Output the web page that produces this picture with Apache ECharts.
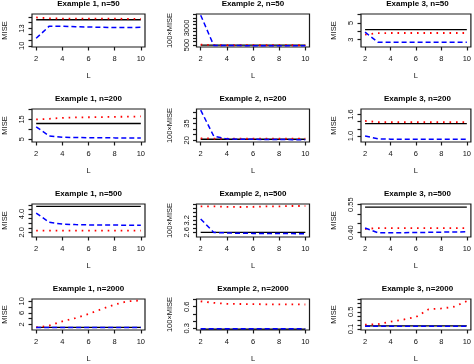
<!DOCTYPE html>
<html><head><meta charset="utf-8">
<script src="https://cdn.jsdelivr.net/npm/echarts@6/dist/echarts.min.js"></script>
<style>html,body{margin:0;padding:0;background:#fff}#c{width:474px;height:364px}</style>
</head><body><div id="c"></div><script>
const L = [2,3,4,5,6,7,8,9,10];
const xTicks = [2,4,6,8,10];
const titles = ['Example 1, n=50','Example 2, n=50','Example 3, n=50',
                'Example 1, n=200','Example 2, n=200','Example 3, n=200',
                'Example 1, n=500','Example 2, n=500','Example 3, n=500',
                'Example 1, n=2000','Example 2, n=2000','Example 3, n=2000'];
const yNames = ['MISE','100\u00d7MISE','MISE','MISE','100\u00d7MISE','MISE',
                'MISE','100\u00d7MISE','MISE','MISE','100\u00d7MISE','MISE'];

// Example 1, n=50
const e1n50_solid  = [14.5,14.5,14.5,14.5,14.5,14.5,14.5,14.5,14.5];
const e1n50_dotted = [14.9,14.75,14.7,14.7,14.7,14.7,14.7,14.65,14.65];
const e1n50_dashed = [11.3,13.4,13.4,13.3,13.25,13.2,13.15,13.15,13.2];
// Example 2, n=50
const e2n50_solid  = [480,480,480,480,480,480,480,480,480];
const e2n50_dotted = [560,470,460,460,460,460,460,460,460];
const e2n50_dashed = [4880,430,410,410,405,405,400,400,400];
// Example 3, n=50
const e3n50_solid  = [4.2,4.2,4.2,4.2,4.2,4.2,4.2,4.2,4.2];
const e3n50_dotted = [3.6,3.78,3.8,3.8,3.8,3.8,3.8,3.8,3.8];
const e3n50_dashed = [3.9,2.7,2.68,2.68,2.68,2.68,2.68,2.68,2.68];
// Example 1, n=200
const e1n200_solid  = [12.9,12.9,12.9,12.9,12.9,12.9,12.9,12.9,12.9];
const e1n200_dotted = [15.0,15.3,15.8,16.0,16.1,16.2,16.3,16.4,16.5];
const e1n200_dashed = [11.2,6.6,5.9,5.8,5.7,5.7,5.6,5.6,5.6];
// Example 2, n=200
const e2n200_solid  = [21.0,21.0,21.0,21.0,21.0,21.0,21.0,21.0,21.0];
const e2n200_dotted = [21.8,21.6,21.6,21.6,21.6,21.6,21.6,21.6,21.6];
const e2n200_dashed = [47,23.7,21.3,21.0,20.9,20.8,20.7,20.6,20.5];
// Example 3, n=200
const e3n200_solid  = [1.345,1.345,1.345,1.345,1.345,1.345,1.345,1.345,1.345];
const e3n200_dotted = [1.42,1.39,1.39,1.39,1.39,1.39,1.39,1.39,1.39];
const e3n200_dashed = [1.0,0.92,0.91,0.91,0.91,0.91,0.91,0.91,0.91];
// Example 1, n=500
const e1n500_solid  = [4.83,4.83,4.83,4.83,4.83,4.83,4.83,4.83,4.83];
const e1n500_dotted = [2.2,2.2,2.2,2.2,2.2,2.2,2.2,2.2,2.2];
const e1n500_dashed = [4.1,3.1,2.9,2.85,2.82,2.8,2.8,2.78,2.78];
// Example 2, n=500
const e2n500_solid  = [2.6,2.6,2.6,2.6,2.6,2.6,2.6,2.6,2.6];
const e2n500_dotted = [3.9,3.9,3.88,3.87,3.88,3.9,3.9,3.92,3.92];
const e2n500_dashed = [3.27,2.6,2.57,2.56,2.55,2.55,2.54,2.54,2.53];
// Example 3, n=500
const e3n500_solid  = [0.537,0.537,0.537,0.537,0.537,0.537,0.537,0.537,0.537];
const e3n500_dotted = [0.42,0.425,0.425,0.425,0.425,0.425,0.425,0.425,0.425];
const e3n500_dashed = [0.425,0.40,0.40,0.40,0.401,0.402,0.403,0.404,0.405];
// Example 1, n=2000
const e1n2000_solid  = [1.0,1.0,1.0,1.0,1.0,1.0,1.0,1.0,1.0];
const e1n2000_dotted = [1.0,1.6,3.1,4.2,5.6,7.3,8.9,10.0,10.3];
const e1n2000_dashed = [0.95,0.95,0.95,0.95,0.95,0.95,0.95,0.95,0.95];
// Example 2, n=2000
const e2n2000_solid  = [0.29,0.29,0.29,0.29,0.29,0.29,0.29,0.29,0.29];
const e2n2000_dotted = [0.674,0.653,0.64,0.637,0.635,0.633,0.632,0.631,0.63];
const e2n2000_dashed = [0.295,0.295,0.295,0.295,0.295,0.295,0.295,0.295,0.295];
// Example 3, n=2000
const e3n2000_solid  = [0.175,0.175,0.175,0.175,0.175,0.175,0.175,0.175,0.175];
const e3n2000_dotted = [0.2,0.215,0.27,0.32,0.38,0.56,0.58,0.62,0.75];
const e3n2000_dashed = [0.165,0.165,0.165,0.165,0.165,0.165,0.165,0.165,0.165];

// y tick values and labelled ticks
const yTicks = [
  [10,11,12,13,14,15], [500,1000,1500,2000,2500,3000,3500,4000,4500,5000], [3,4,5,6],
  [5,10,15,20], [20,25,30,35,40,45], [1.0,1.2,1.4,1.6],
  [2.0,2.5,3.0,3.5,4.0,4.5,5.0], [2.6,2.8,3.0,3.2,3.4,3.6,3.8,4.0], [0.40,0.45,0.50,0.55],
  [2,4,6,8,10], [0.3,0.4,0.5,0.6,0.7], [0.1,0.2,0.3,0.4,0.5,0.6,0.7,0.8]
];
const yLabels = [
  [10,13], [500,3000], [3,5],
  [5,15], [20,35], [1.0,1.6],
  [2.0,4.0], [2.6,3.2], [0.40,0.55],
  [2,6,10], [0.3,0.6], [0.1,0.5]
];
const yDec = [0,0,0, 0,0,1, 1,1,2, 0,1,1];
const yRange = [
  [9.8,15.5],[206,5060],[2.12,6.08],
  [3.5,20.3],[18.5,48],[0.83,1.756],
  [1.5,5.09],[2.37,4.02],[0.377,0.554],
  [0.1,10.8],[0.278,0.706],[0.078,0.80]
];
const solids  = [e1n50_solid,e2n50_solid,e3n50_solid,e1n200_solid,e2n200_solid,e3n200_solid,
                 e1n500_solid,e2n500_solid,e3n500_solid,e1n2000_solid,e2n2000_solid,e3n2000_solid];
const dotteds = [e1n50_dotted,e2n50_dotted,e3n50_dotted,e1n200_dotted,e2n200_dotted,e3n200_dotted,
                 e1n500_dotted,e2n500_dotted,e3n500_dotted,e1n2000_dotted,e2n2000_dotted,e3n2000_dotted];
const dasheds = [e1n50_dashed,e2n50_dashed,e3n50_dashed,e1n200_dashed,e2n200_dashed,e3n200_dashed,
                 e1n500_dashed,e2n500_dashed,e3n500_dashed,e1n2000_dashed,e2n2000_dashed,e3n2000_dashed];

const colLeft = [32, 196.5, 361];
const rowTop = [14, 109, 204, 299];
const boxW = 113, boxH = 33;
const FONT = '"Liberation Sans", Arial, Helvetica, sans-serif';

const grid = [], xAxis = [], yAxis = [], series = [], graphic = [];
for (let i = 0; i < 12; i++) {
  const r = Math.floor(i / 3), c = i % 3;
  grid.push({left: colLeft[c], top: rowTop[r], width: boxW, height: boxH,
    show: true, borderColor: '#1a1a1a', borderWidth: 1.2, backgroundColor: 'transparent'});
  xAxis.push({gridIndex: i, type: 'value', min: 1.68, max: 10.32,
    axisLine: {show: false}, splitLine: {show: false},
    axisTick: {show: true, inside: false, length: 3.5, customValues: xTicks, lineStyle: {color: '#1a1a1a', width: 1.2}},
    axisLabel: {customValues: xTicks, fontSize: 7.5, margin: 8, color: '#111', fontFamily: FONT},
    name: 'L', nameLocation: 'middle', nameGap: 25,
    nameTextStyle: {fontSize: 7.5, color: '#111', fontFamily: FONT}});
  const dec = yDec[i];
  yAxis.push({gridIndex: i, type: 'value', min: yRange[i][0], max: yRange[i][1],
    axisLine: {show: false}, splitLine: {show: false},
    axisTick: {show: true, inside: false, length: 3.5, customValues: yTicks[i], lineStyle: {color: '#1a1a1a', width: 1.2}},
    axisLabel: {customValues: yLabels[i], rotate: 90, fontSize: 7.5, margin: 6, color: '#111', fontFamily: FONT,
      formatter: v => Number(v).toFixed(dec)},
    name: yNames[i], nameLocation: 'middle', nameGap: 23, nameRotate: 90,
    nameTextStyle: {fontSize: 7.5, color: '#111', fontFamily: FONT}});
  const mk = arr => L.map((x, j) => [x, arr[j]]);
  series.push({type: 'line', xAxisIndex: i, yAxisIndex: i, data: mk(solids[i]), showSymbol: false,
    silent: true, animation: false, lineStyle: {color: '#000', width: 1.4, type: 'solid'}});
  series.push({type: 'line', xAxisIndex: i, yAxisIndex: i, data: mk(dotteds[i]), showSymbol: false,
    silent: true, animation: false, lineStyle: {color: '#ff0000', width: 1.8, type: [1.6, 4.9]}});
  series.push({type: 'line', xAxisIndex: i, yAxisIndex: i, data: mk(dasheds[i]), showSymbol: false,
    silent: true, animation: false, lineStyle: {color: '#0000ff', width: 1.5, type: [5, 3]}});
  graphic.push({type: 'text', x: colLeft[c] + boxW / 2, y: rowTop[r] - 10.5,
    style: {text: titles[i], font: 'bold 8px ' + FONT, fill: '#000',
      align: 'center', verticalAlign: 'middle', textAlign: 'center', textVerticalAlign: 'middle'}});
}

const chart = echarts.init(document.getElementById('c'), null, {renderer: 'canvas'});
chart.setOption({animation: false, backgroundColor: '#fff', grid, xAxis, yAxis, series, graphic});
</script></body></html>
